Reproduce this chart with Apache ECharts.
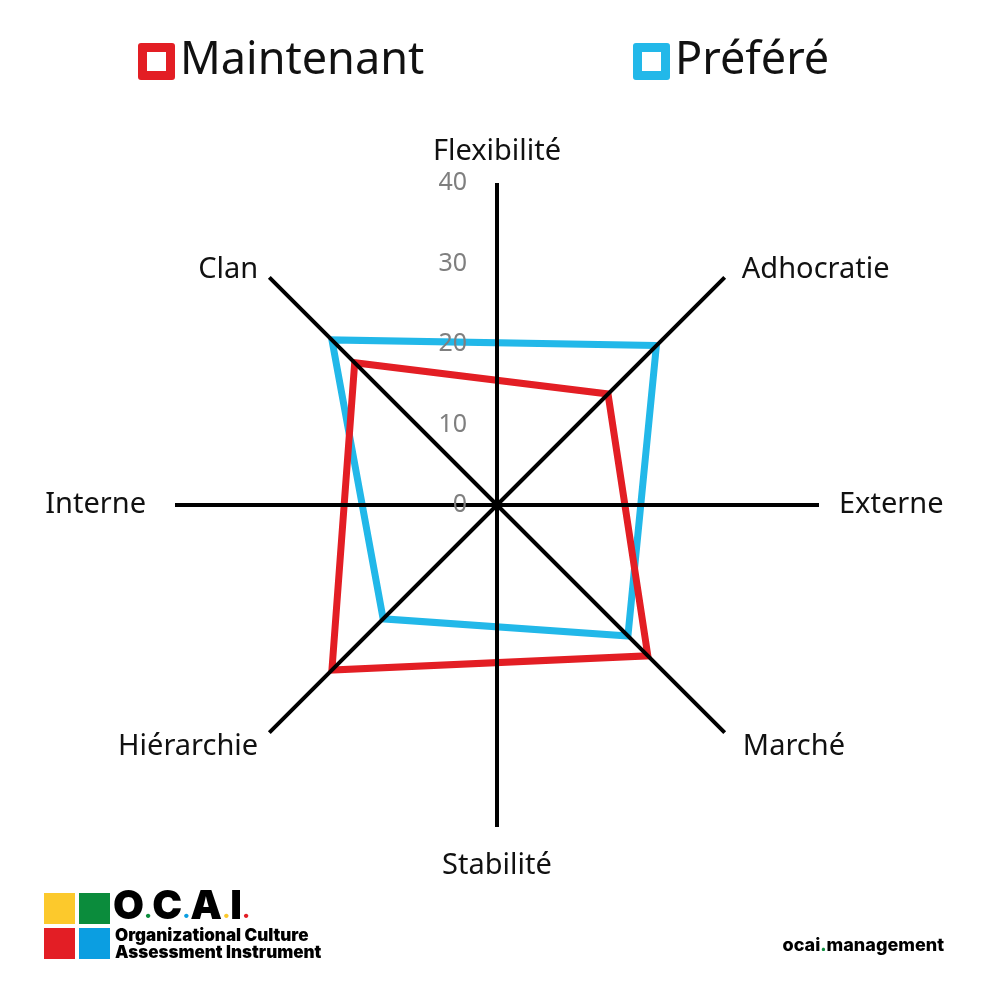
<!DOCTYPE html>
<html><head><meta charset="utf-8">
<script src="https://cdn.jsdelivr.net/npm/echarts@6/dist/echarts.min.js"></script>
<style>html,body{margin:0;padding:0;background:#fff}#c{width:1000px;height:1000px}</style>
</head><body><div id="c"></div>
<script>
// ---- data ----
const axisNames = ['Flexibilité', 'Adhocratie', 'Externe', 'Marché', 'Stabilité', 'Hiérarchie', 'Interne', 'Clan'];
const cultureTypes = ['Clan', 'Adhocratie', 'Marché', 'Hiérarchie'];
const maintenant = [25, 19.5, 26.5, 29];
const prefere = [29, 28, 23, 20];
const radiusTicks = [0, 10, 20, 30, 40];
const seriesNames = ['Maintenant', 'Préféré'];

// ---- styling ----
const RED = '#e31e24';
const BLUE = '#22b8e9';
const labelPad = {
  'Flexibilité': [0, 0, -3, 0],
  'Adhocratie': [0, 0, -21, 3],
  'Externe': [4, 0, -4, 0],
  'Marché': [-15, 0, 0, 4],
  'Stabilité': [4, 0, 0, 0],
  'Hiérarchie': [-15, -3, 0, 0],
  'Interne': [4, 9, -4, 0],
  'Clan': [0, -3, -21, 0]
};
const ring = 'path://M3,0H34Q37,0 37,3V34Q37,37 34,37H3Q0,37 0,34V3Q0,0 3,0Z M9,9V28H28V9Z';

function polygon(values) {
  const pts = cultureTypes.map((t, i) => [values[i], t]);
  return pts.concat([pts[0], pts[1]]);
}

const chart = echarts.init(document.getElementById('c'), null, {renderer: 'canvas'});
const legendBase = {
  top: 34, itemWidth: 37, itemHeight: 37, itemStyle: {borderWidth: 0},
  textStyle: {fontSize: 45, fontFamily: 'Noto Sans', color: '#111', padding: [4, 0, -4, 0]},
  selectedMode: false
};
const dot = c => ({fontSize: 22, fontWeight: 900, fontFamily: 'Inter', fill: c, verticalAlign: 'bottom', padding: [0, 0, 5, 0]});
const hidden = {axisLine: {show: false}, axisTick: {show: false}, axisLabel: {show: false}, splitLine: {show: false}};
chart.setOption({
  backgroundColor: '#fff',
  animation: false,
  legend: [
    Object.assign({}, legendBase, {left: 133, data: [{name: seriesNames[0], icon: ring}]}),
    Object.assign({}, legendBase, {left: 628, data: [{name: seriesNames[1], icon: ring}]})
  ],
  polar: [
    {center: [497, 505], radius: 322},
    {center: [497, 505], radius: 322}
  ],
  angleAxis: [
    {
      polarIndex: 0,
      type: 'category',
      data: axisNames.map(n => ({value: n, textStyle: {padding: labelPad[n]}})),
      boundaryGap: false,
      startAngle: 90,
      clockwise: true,
      axisLine: {show: false},
      axisTick: {show: false},
      splitLine: {show: true, interval: 0, lineStyle: {color: '#000', width: 4}},
      axisLabel: {interval: 0, margin: 20, fontSize: 29, fontFamily: 'Noto Sans', color: '#111'},
      z: 10
    },
    Object.assign({
      polarIndex: 1, type: 'category', data: axisNames, boundaryGap: true,
      startAngle: 90 + 180 / axisNames.length, clockwise: true
    }, hidden)
  ],
  radiusAxis: [
    {
      polarIndex: 0,
      type: 'value', min: radiusTicks[0], max: radiusTicks[radiusTicks.length - 1], interval: 10,
      axisLine: {show: false}, axisTick: {show: false}, splitLine: {show: false},
      axisLabel: {margin: 30, fontSize: 25, fontFamily: 'Noto Sans', color: '#7f7f7f', showMinLabel: true, showMaxLabel: true, padding: [3, 0, -3, 0]},
      z: 11
    },
    Object.assign({
      polarIndex: 1, type: 'value', min: radiusTicks[0], max: radiusTicks[radiusTicks.length - 1], interval: 10
    }, hidden)
  ],
  series: [
    {name: seriesNames[0], type: 'line', coordinateSystem: 'polar', polarIndex: 1, data: polygon(maintenant), clip: false,
     symbol: 'none', color: RED, lineStyle: {width: 7, color: RED, join: 'miter', cap: 'butt'}, z: 2},
    {name: seriesNames[1], type: 'line', coordinateSystem: 'polar', polarIndex: 1, data: polygon(prefere), clip: false,
     symbol: 'none', color: BLUE, lineStyle: {width: 7, color: BLUE, join: 'miter', cap: 'butt'}, z: 1}
  ],
  graphic: [
    {type: 'rect', left: 44, top: 893, shape: {width: 31, height: 31}, style: {fill: '#fcc92c'}},
    {type: 'rect', left: 79, top: 893, shape: {width: 31, height: 31}, style: {fill: '#0b8c3c'}},
    {type: 'rect', left: 44, top: 928, shape: {width: 31, height: 31}, style: {fill: '#e31e25'}},
    {type: 'rect', left: 79, top: 928, shape: {width: 31, height: 31}, style: {fill: '#0b9ee1'}},
    {type: 'text', left: 113, top: 887, style: {
      text: '{b|O}{g|.}{b|C}{u|.}{b|A}{y|.}{b|I}{r|.}',
      rich: {
        b: {fontSize: 40, fontWeight: 900, fontFamily: 'Inter', fill: '#000', verticalAlign: 'bottom'},
        g: dot('#0b8c3c'), u: dot('#0b9ee1'), y: dot('#fcc92c'), r: dot('#e31e25')
      }}},
    {type: 'text', left: 115, top: 927, style: {text: 'Organizational Culture', fontSize: 17, fontWeight: 900, fontFamily: 'Inter', fill: '#000'}},
    {type: 'text', left: 115, top: 944, style: {text: 'Assessment Instrument', fontSize: 17, fontWeight: 900, fontFamily: 'Inter', fill: '#000'}},
    {type: 'text', right: 56, top: 937, style: {
      text: '{k|ocai}{g|.}{k|management}',
      rich: {
        k: {fontSize: 18, fontWeight: 800, fontFamily: 'Inter', fill: '#000'},
        g: {fontSize: 18, fontWeight: 800, fontFamily: 'Inter', fill: '#0b8c3c'}
      }}}
  ]
});
</script>
</body></html>
